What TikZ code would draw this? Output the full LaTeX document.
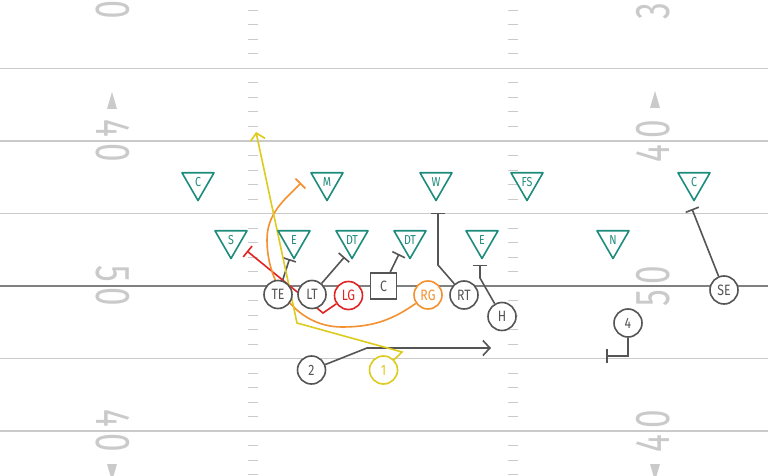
\documentclass[tikz,border=0pt]{standalone}
\usepackage{fontspec}
\setmainfont{Fira Sans}[FakeStretch=0.82]
\newfontfamily\yardfont{Fira Sans}[FakeStretch=0.68,LetterSpace=12]
\usetikzlibrary{shapes.geometric,arrows.meta}
\definecolor{fieldgray}{HTML}{CACACA}
\definecolor{losgray}{HTML}{808080}
\definecolor{playergray}{HTML}{555555}
\definecolor{defteal}{HTML}{1E8C7C}
\definecolor{lgred}{HTML}{E02424}
\definecolor{rgorange}{HTML}{F39131}
\definecolor{qbyellow}{HTML}{DDCB1E}
\pgfdeclarelayer{field}
\pgfdeclarelayer{routes}
\pgfsetlayers{field,routes,main}
\tikzstyle{yardline}=[draw=fieldgray, line width=1.5pt]
\tikzstyle{scrimmage}=[draw=losgray, line width=1.5pt]
\tikzstyle{hashmark}=[draw=fieldgray, line width=1pt]
\tikzstyle{yardnum}=[text=fieldgray, inner sep=0pt, font=\yardfont\fontsize{49}{49}\selectfont]
\tikzstyle{player}=[draw=playergray,%
                    circle,%
                    fill=white,%
                    line width=1.6pt,%
                    minimum size=28pt,%
                    inner sep=0pt,%
                    text=playergray,%
                    font=\fontsize{15}{15}\selectfont]
\tikzstyle{snapper}=[player, rectangle, minimum size=26pt]
\tikzstyle{defender}=[draw=defteal,%
                      regular polygon,%
                      regular polygon sides=3,%
                      shape border rotate=180,%
                      fill=white,%
                      line width=1.6pt,%
                      line join=round,%
                      minimum size=37pt,%
                      inner sep=0pt,%
                      text=defteal,%
                      font=\fontsize{13}{13}\selectfont]
\tikzstyle{route}=[draw=playergray, line width=1.6pt]
\tikzstyle{blockend}=[-{Bar[width=14pt]}]
\tikzstyle{runend}=[-{Straight Barb[length=7pt,width=15pt]}]
\begin{document}
\begin{tikzpicture}[x=1pt,y=-1pt]
\useasboundingbox (0,0) rectangle (768,476);
\begin{pgfonlayer}{field}
\begin{scope}
\clip (0,0) rectangle (768,476);
\fill[white] (0,0) rectangle (768,476);
\foreach \y in {68.5,141,213.5,358.5,431}
  \draw[yardline] (0,\y) -- (768,\y);
\draw[scrimmage] (0,286) -- (768,286);
\foreach \m in {-19,...,13}{
  \pgfmathtruncatemacro{\r}{mod(\m+20,5)}
  \ifnum\r>0
    \draw[hashmark] (248,{286+14.5*(\m)}) -- (258,{286+14.5*(\m)});
    \draw[hashmark] (508,{286+14.5*(\m)}) -- (518,{286+14.5*(\m)});
  \fi}
\node[yardnum, rotate=-90] (l30) at (113,-1) {30};
\node[yardnum, rotate=-90] (l40a) at (113,141) {40};
\node[yardnum, rotate=-90] (l50) at (113,286) {50};
\node[yardnum, rotate=-90] (l40b) at (113,431) {40};
\node[yardnum, rotate=90] (r30) at (653,-1) {30};
\node[yardnum, rotate=90] (r40a) at (653,141) {40};
\node[yardnum, rotate=90] (r50) at (653,286) {50};
\node[yardnum, rotate=90] (r40b) at (653,431) {40};
\fill[fieldgray] (112,92) -- (117,109) -- (107,109) -- cycle;
\fill[fieldgray] (655,91) -- (660,108) -- (650,108) -- cycle;
\fill[fieldgray] (112,481) -- (117,464) -- (107,464) -- cycle;
\fill[fieldgray] (655,481) -- (660,464) -- (650,464) -- cycle;
\end{scope}
\end{pgfonlayer}

\node[defender] (c1) at (198,182) {C};
\node[defender] (m) at (327,182) {M};
\node[defender] (w) at (436,182) {W};
\node[defender] (fs) at (527,182) {FS};
\node[defender] (c2) at (694,182) {C};
\node[defender] (s) at (231,240) {S};
\node[defender] (e1) at (294,240) {E};
\node[defender] (dt1) at (352,240) {DT};
\node[defender] (dt2) at (410,240) {DT};
\node[defender] (e2) at (482,240) {E};
\node[defender] (n) at (613,240) {N};

\node[player] (te) at (278,294.5) {TE};
\node[player] (lt) at (312,294.5) {LT};
\node[player, draw=lgred, text=lgred] (lg) at (348.5,295.5) {LG};
\node[snapper] (ctr) at (383.5,286) {C};
\node[player, draw=rgorange, text=rgorange] (rg) at (428,295) {RG};
\node[player] (rt) at (464,295) {RT};
\node[player] (h) at (502,316.5) {H};
\node[player] (se) at (724,290) {SE};
\node[player] (four) at (628,323) {4};
\node[player] (two) at (311.5,370) {2};
\node[player, draw=qbyellow, text=qbyellow] (one) at (383.5,370) {1};

\coordinate (teblk) at (289.5,259);
\coordinate (ltblk) at (344.5,257);
\coordinate (cblk) at (399,254);
\coordinate (rtbend) at (438,265);
\coordinate (rtblk) at (438,212.5);
\coordinate (hbend) at (480,278);
\coordinate (hblk) at (480,264.5);
\coordinate (seblk) at (692,209);
\coordinate (fourbend) at (628,356);
\coordinate (fourblk) at (606,356);
\coordinate (twobend) at (367,348);
\coordinate (twoend) at (491,348);
\coordinate (lgbend) at (323,313);
\coordinate (lgblk) at (247,251);
\coordinate (onebend) at (402,352);
\coordinate (onecut) at (297,323);
\coordinate (oneend) at (256,132);
\coordinate (rgblk) at (301,183);

\begin{pgfonlayer}{routes}
\draw[route, blockend] (te) -- (teblk);
\draw[route, blockend] (lt) -- (ltblk);
\draw[route, blockend] (ctr) -- (cblk);
\draw[route, blockend] (rt) -- (rtbend) -- (rtblk);
\draw[route, blockend] (h) -- (hbend) -- (hblk);
\draw[route, blockend] (se) -- (seblk);
\draw[route, blockend] (four) -- (fourbend) -- (fourblk);
\draw[route, runend] (two) -- (twobend) -- (twoend);
\draw[route, draw=lgred, blockend] (lg) -- (lgbend) -- (lgblk);
\draw[route, draw=rgorange, blockend] (rg) .. controls (392,320) and (373,327) .. (342,327)
  .. controls (297,327) and (267,285) .. (267,240)
  .. controls (267,214) and (283,201) .. (rgblk);
\draw[route, draw=qbyellow, runend] (one) -- (onebend) -- (onecut) -- (oneend);
\end{pgfonlayer}
\end{tikzpicture}
\end{document}
